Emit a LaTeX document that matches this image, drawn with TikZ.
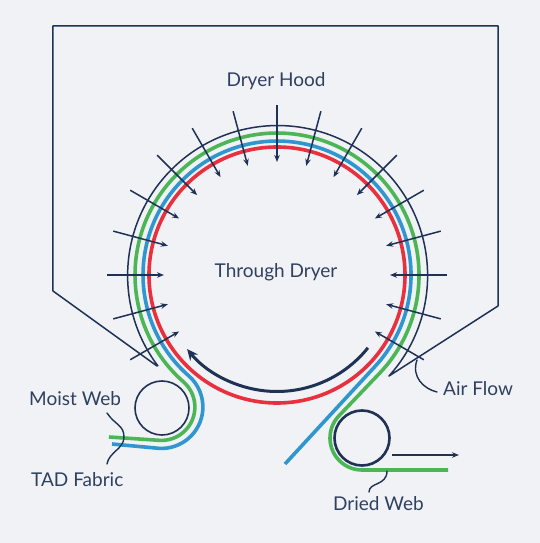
\documentclass[tikz,border=0pt]{standalone}
\usepackage{fontspec}
\setmainfont{Lato}
\usetikzlibrary{arrows.meta}
\definecolor{bgc}{HTML}{F0F2F5}
\definecolor{navy}{HTML}{1F3155}
\definecolor{txtc}{HTML}{2F4060}
\definecolor{grn}{HTML}{4CB556}
\definecolor{blu}{HTML}{2F96CF}
\definecolor{rd}{HTML}{E8303F}
\tikzset{
  x=1pt,y=1pt,
  lab/.style={text=txtc,font=\fontsize{19}{23}\selectfont,inner sep=0pt},
  band/.style={line width=3.6pt,line join=round},
  thin line/.style={draw=navy,line width=1.5pt},
  flow/.style={draw=navy,line width=1.5pt,-{Stealth[length=7pt,width=5.5pt]}},
  leader/.style={draw=navy,line width=1.4pt,line cap=round},
}
\begin{document}
\begin{tikzpicture}
\useasboundingbox[fill=bgc] (-277,-268) rectangle (263,275);
\coordinate (c) at (0,0);
\coordinate (rL) at (-115.5,-132);
\coordinate (rR) at (85,-163);
% hood and outer arc
\coordinate (hoodL) at (-120,-91);
\coordinate (hoodR) at (112,-101);
\draw[thin line,line join=round] (hoodL) -- (-224,-16) -- (-224,249) -- (221,249) -- (221,-31) -- (hoodR)
  arc[start angle=-42.05,end angle=217.2,radius=150];
% rollers
\node[circle,draw=navy,line width=1.6pt,minimum size=54pt,inner sep=0pt] (rollerL) at (-115,-133) {};
\node[circle,draw=navy,line width=2.6pt,minimum size=55pt,inner sep=0pt] (rollerR) at (85,-163) {};
% drum
\node[circle,draw=rd,line width=3.6pt,minimum size=256pt,inner sep=0pt] (drum) at (c) {};
% bands
\coordinate (gs) at (-168,-162);
\coordinate (bs) at (-165,-169);
\coordinate (bt) at (8,-189);
\draw[band,draw=blu] (bs) -- ([shift={(266:41.4)}]rL) arc[start angle=266,end angle=408.8,radius=41.4]
  arc[start angle=228.8,end angle=-42.7,radius=134] -- (bt);
\draw[band,draw=grn] (gs) -- ([shift={(266:33.4)}]rL) arc[start angle=266,end angle=408.8,radius=33.4]
  arc[start angle=228.8,end angle=-43.7,radius=142] -- ([shift={(136.3:32)}]rR)
  arc[start angle=136.3,end angle=270,radius=32] -- (171,-195);
% inner arrow
\draw[navy,line width=3pt,-{Stealth[length=11pt,width=10pt]}] (-38.7:116.5) arc[start angle=-38.7,end angle=-140.5,radius=116.5];
% air flow arrows
\foreach \a in {-30,-15,0,...,210}
  \draw[flow] (\a:169.5) -- (\a:113);
% output arrow
\coordinate (o1) at (115,-180);
\coordinate (o2) at (182,-180);
\draw[flow] (o1) -- (o2);
% labels
\node[lab,anchor=base] (hood) at (-1,188.5) {Dryer Hood};
\node[lab,anchor=base] (dryer) at (-1,-2.5) {Through Dryer};
\node[lab,anchor=base west] (moist) at (-248,-130) {Moist Web};
\node[lab,anchor=base west] (tad) at (-246,-211) {TAD Fabric};
\node[lab,anchor=base west] (air) at (166,-120) {Air Flow};
\node[lab,anchor=base west] (dried) at (56,-235) {Dried Web};
% leaders
\coordinate (m1) at (-170,-138);
\coordinate (m2) at (-153,-162);
\coordinate (t1) at (-170,-189);
\draw[leader] (m1) .. controls (-162,-150) and (-153,-150) .. (m2) .. controls (-153,-174) and (-168,-177) .. (t1);
\coordinate (a1) at (160,-117);
\coordinate (a2) at (140,-85);
\draw[leader] (a1) .. controls (147,-114) and (134,-102) .. (a2);
\coordinate (d1) at (92,-217);
\coordinate (d2) at (110,-196);
\draw[leader] (d1) .. controls (92,-207) and (110,-211) .. (d2);
\end{tikzpicture}
\end{document}
